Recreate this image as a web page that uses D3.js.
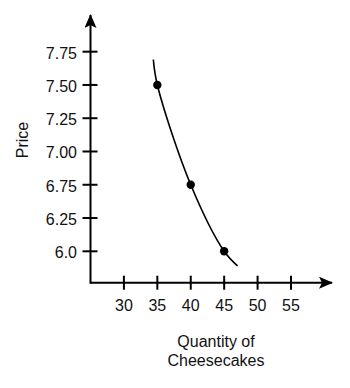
<!DOCTYPE html>
<html>
<head>
<meta charset="utf-8">
<script src="https://cdn.jsdelivr.net/npm/d3@7"></script>
<style>
  html, body { margin: 0; padding: 0; background: #fff; }
  svg { display: block; font-family: "Liberation Sans", Arial, sans-serif; }
</style>
</head>
<body>
<svg id="chart" width="350" height="388"></svg>
<script>
// Demand schedule for cheesecakes
const quantities = [35, 40, 45];
const prices = [7.50, 6.75, 6.00];

// Smooth demand curve passing through the schedule
const curveQuantities = [34.4, 35, 40, 45, 47];
const curvePrices = [7.69, 7.50, 6.75, 6.00, 5.89];

// Axis tick labels (price ticks are evenly spaced on the axis)
const xTicks = [30, 35, 40, 45, 50, 55];
const yTickValues = [6.00, 6.25, 6.75, 7.00, 7.25, 7.50, 7.75];
const yTickLabels = ["6.0", "6.25", "6.75", "7.00", "7.25", "7.50", "7.75"];

const svg = d3.select("#chart");
const ink = "#000";

const originX = 90.5, originY = 282.7;

const x = d3.scaleLinear().domain([25, 55]).range([originX, 291]);

// Price axis: each labelled price sits one equal step above the previous one
const yStep = 33.27;
const yTop = 251.3;
const y = d3.scaleLinear()
  .domain(yTickValues)
  .range(yTickValues.map((d, i) => yTop - i * yStep));

// Arrowheads
const defs = svg.append("defs");
defs.append("marker")
  .attr("id", "arrow")
  .attr("viewBox", "0 0 14 12")
  .attr("refX", 13).attr("refY", 6)
  .attr("markerUnits", "userSpaceOnUse")
  .attr("markerWidth", 14).attr("markerHeight", 12)
  .attr("orient", "auto")
  .append("path")
  .attr("d", "M0,0 L14,6 L0,12 L3,6 Z")
  .attr("fill", ink);

// Axis lines
svg.append("line")
  .attr("x1", originX).attr("y1", originY)
  .attr("x2", 332).attr("y2", originY)
  .attr("stroke", ink).attr("stroke-width", 2)
  .attr("marker-end", "url(#arrow)");
svg.append("line")
  .attr("x1", originX).attr("y1", originY + 1)
  .attr("x2", originX).attr("y2", 15)
  .attr("stroke", ink).attr("stroke-width", 2)
  .attr("marker-end", "url(#arrow)");

// X ticks and labels
const xg = svg.append("g");
xg.selectAll("line").data(xTicks).join("line")
  .attr("x1", d => x(d)).attr("x2", d => x(d))
  .attr("y1", originY - 7).attr("y2", originY + 7)
  .attr("stroke", ink).attr("stroke-width", 2);
xg.selectAll("text").data(xTicks).join("text")
  .attr("x", d => x(d)).attr("y", 311)
  .attr("text-anchor", "middle")
  .attr("font-size", 16)
  .attr("fill", "#111")
  .text(d => d);

// Y ticks and labels
const yg = svg.append("g");
yg.selectAll("line").data(yTickValues).join("line")
  .attr("x1", originX - 8).attr("x2", originX + 7)
  .attr("y1", d => y(d)).attr("y2", d => y(d))
  .attr("stroke", ink).attr("stroke-width", 2);
yg.selectAll("text").data(yTickValues).join("text")
  .attr("x", 77).attr("y", d => y(d) + 7)
  .attr("text-anchor", "end")
  .attr("font-size", 16)
  .attr("fill", "#111")
  .text((d, i) => yTickLabels[i]);

// Demand curve
const line = d3.line()
  .x(d => x(d[0]))
  .y(d => y(d[1]))
  .curve(d3.curveCatmullRom.alpha(0.5));
svg.append("path")
  .datum(curveQuantities.map((q, i) => [q, curvePrices[i]]))
  .attr("d", line)
  .attr("fill", "none")
  .attr("stroke", ink)
  .attr("stroke-width", 1.6);

// Schedule points
svg.selectAll("circle.pt").data(quantities).join("circle")
  .attr("class", "pt")
  .attr("cx", d => x(d))
  .attr("cy", (d, i) => y(prices[i]))
  .attr("r", 4.2)
  .attr("fill", ink);

// Axis titles
svg.append("text")
  .attr("transform", "translate(28,140) rotate(-90)")
  .attr("text-anchor", "middle")
  .attr("font-size", 16)
  .attr("fill", "#111")
  .text("Price");

svg.append("text")
  .attr("x", 216).attr("y", 347)
  .attr("text-anchor", "middle")
  .attr("font-size", 16)
  .attr("fill", "#111")
  .text("Quantity of");
svg.append("text")
  .attr("x", 216).attr("y", 366)
  .attr("text-anchor", "middle")
  .attr("font-size", 16)
  .attr("fill", "#111")
  .text("Cheesecakes");
</script>
</body>
</html>
